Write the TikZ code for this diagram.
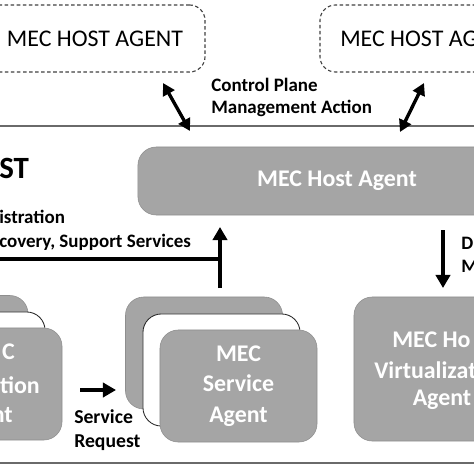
\documentclass[tikz,border=0pt]{standalone}
\usepackage{fontspec}
\setmainfont{Carlito}
\usetikzlibrary{arrows.meta, positioning, calc}
\definecolor{BoxGray}{HTML}{A5A5A5}
\definecolor{BoxEdge}{HTML}{8E8E8E}
\definecolor{FrameGray}{HTML}{6A6A6A}
\tikzset{
  dashbox/.style={draw=black!75, dash pattern=on 2.5pt off 1.8pt, thick, rounded corners=11pt,
    minimum width=5.5cm, minimum height=1.675cm, inner sep=0pt, font=\fontsize{17}{20}\selectfont},
  agentbox/.style={draw=BoxEdge, fill=BoxGray, rounded corners=13pt, inner sep=0pt,
    text=white, align=center, font=\fontsize{17}{21.5}\selectfont\bfseries},
  stackbox/.style={agentbox, minimum width=3.925cm, minimum height=2.8cm},
  stackmid/.style={draw=black!85, fill=white, semithick, rounded corners=13pt,
    minimum width=3.925cm, minimum height=2.8cm},
  lbl/.style={align=left, inner sep=0pt, font=\fontsize{13.5}{17}\selectfont\bfseries},
  wlbl/.style={inner sep=0pt, text=white, font=\fontsize{17}{21.5}\selectfont\bfseries},
  flow/.style={-{Triangle[length=0.33cm, width=0.36cm]}, line width=2.6pt},
  flowdbl/.style={{Triangle[length=0.3cm, width=0.32cm]}-{Triangle[length=0.3cm, width=0.32cm]}, line width=2.4pt},
  bus/.style={line width=2.6pt},
}
\begin{document}
\begin{tikzpicture}[x=0.025cm, y=-0.025cm]
  \useasboundingbox (0,0) rectangle (474,474);
  \clip (0,0) rectangle (474,474);
  % host frame
  \draw[draw=FrameGray, line width=1.1pt] (-40,126) rectangle (520,463);
  \node[lbl, anchor=west, font=\fontsize{22}{26}\selectfont\bfseries] (hosttitle) at (-1,168) {ST};

  % remote agents
  \node[dashbox] (remoteA) at (95,38.5) {MEC HOST AGENT};
  \node[dashbox] (remoteB) at (430,38.5) {};
  \node[anchor=west, inner sep=0pt, font=\fontsize{17}{20}\selectfont] (remoteBtxt) at (340,38.5) {MEC HOST AG};

  \coordinate (ctlAup) at (163,83);
  \coordinate (ctlAdn) at (190,131);
  \coordinate (ctlBup) at (424,83);
  \coordinate (ctlBdn) at (400,132);
  \draw[flowdbl] (ctlAup) -- (ctlAdn);
  \draw[flowdbl] (ctlBup) -- (ctlBdn);
  \node[lbl, anchor=west, font=\fontsize{13.5}{15.6}\selectfont\bfseries] (ctltxt) at (211,97) {Control Plane\\Management Action};

  % host agent
  \node[agentbox, minimum width=9.95cm, minimum height=1.7cm, font=\fontsize{17}{20}\selectfont\bfseries] (hostagent) at (337,181) {MEC Host Agent};

  % service bus
  \node[lbl, anchor=west] (bustxt) at (-1,230) {istration\\covery, Support Services};
  \coordinate (busL) at (-10,259);
  \coordinate (busJ) at (220,259);
  \coordinate (svcup) at (220,288);
  \coordinate (hostin) at (220,227);
  \draw[bus] (busL) -- (busJ);
  \draw[flow] (svcup) -- (hostin);

  % data plane
  \coordinate (hostout) at (443,230);
  \coordinate (virtin) at (443,288);
  \draw[flow] (hostout) -- (virtin);
  \node[lbl, anchor=west, font=\fontsize{13.5}{16.5}\selectfont\bfseries] (dptxt) at (461,255) {D\\M};

  % application agents
  \node[stackbox] (appback) at (-50.5,351.5) {};
  \node[stackmid] (appmid) at (-33.5,368) {};
  \node[stackbox] (appfront) at (-16.5,384) {};
  \node[wlbl, anchor=east] (apptxtA) at (15,352) {C};
  \node[wlbl, anchor=east] (apptxtB) at (40,385) {tion};
  \node[wlbl, anchor=east] (apptxtC) at (13,415) {nt};

  % service request
  \coordinate (reqA) at (80,390);
  \coordinate (reqB) at (116,390);
  \draw[flow, line width=2.2pt] (reqA) -- (reqB);
  \node[lbl, anchor=west, font=\fontsize{14}{17}\selectfont\bfseries] (reqtxt) at (74,430) {Service\\Request};

  % service agents
  \node[stackbox] (svcback) at (204,353) {};
  \node[stackmid] (svcmid) at (221.5,370) {};
  \node[stackbox] (svcfront) at (238.5,386) {MEC\\Service\\Agent};

  % virtualization agent
  \node[agentbox, minimum width=4.4cm, minimum height=3.6cm] (virt) at (442,369) {};
  \node[wlbl, anchor=west] (virttxtA) at (392,340) {MEC Ho};
  \node[wlbl, anchor=west] (virttxtB) at (374,370) {Virtualizat};
  \node[wlbl] (virttxtC) at (442,400) {Agent};
\end{tikzpicture}
\end{document}
